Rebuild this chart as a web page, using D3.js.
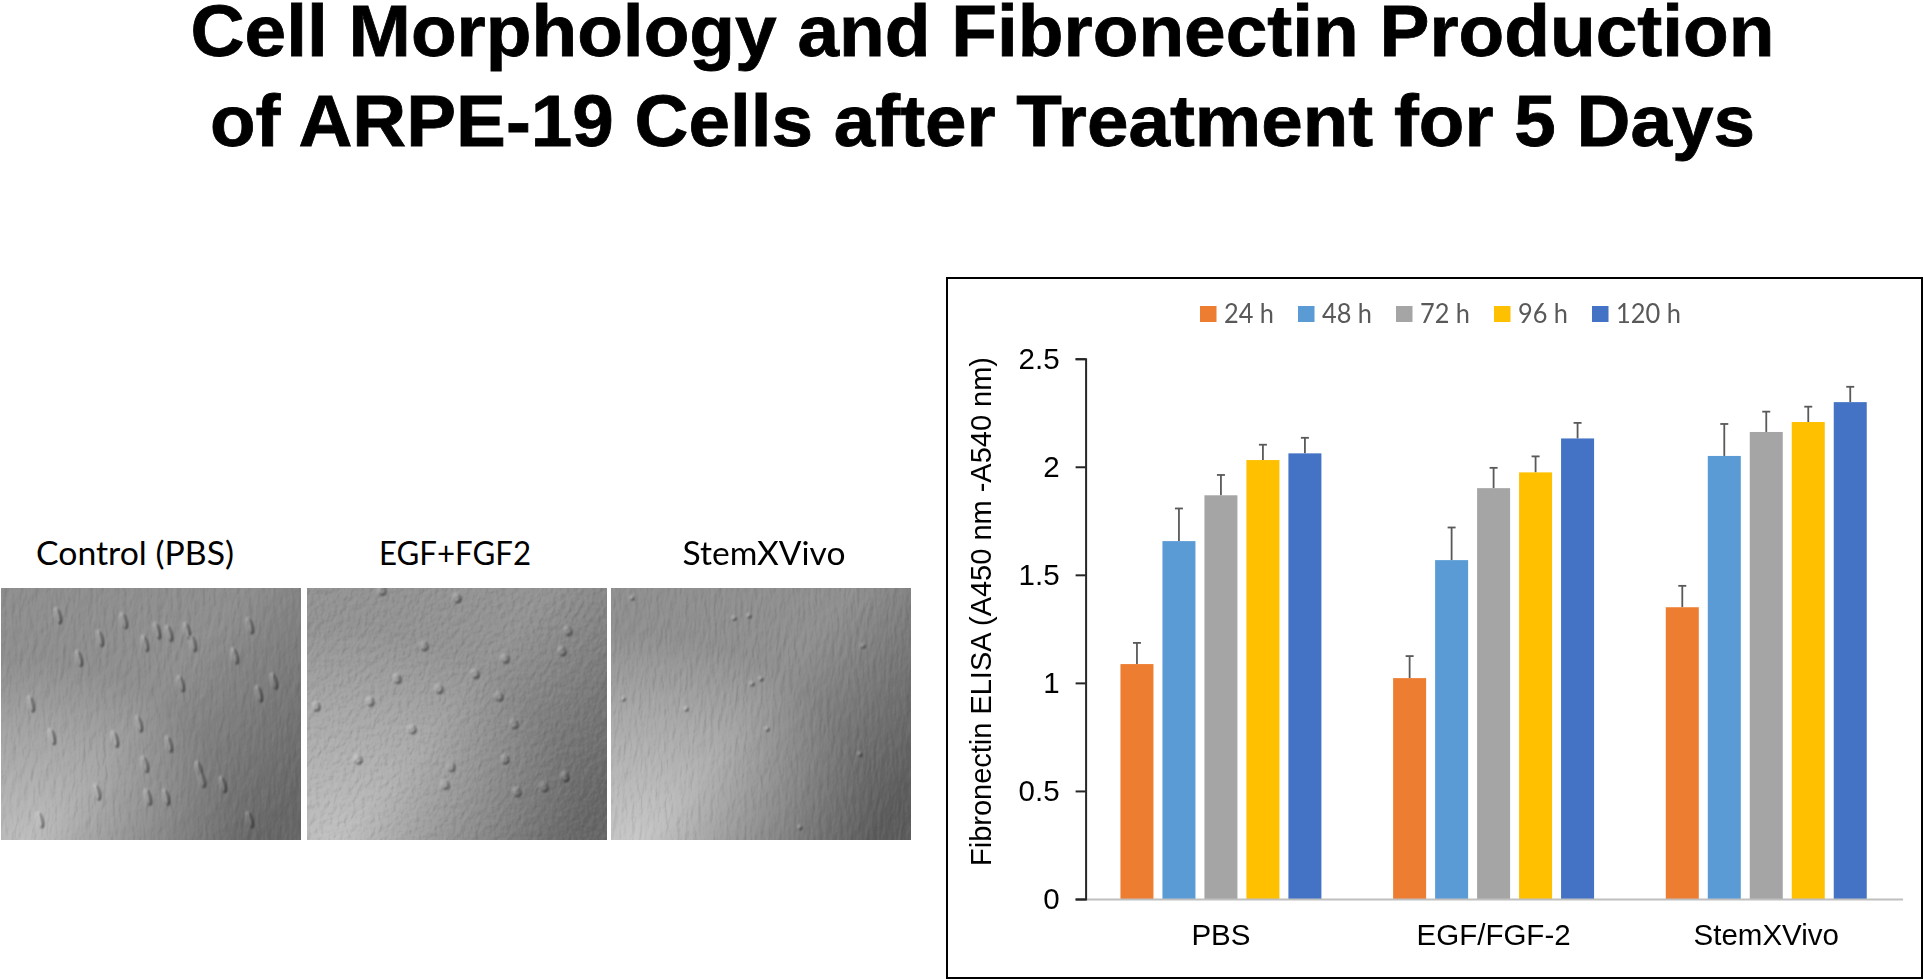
<!DOCTYPE html>
<html>
<head>
<meta charset="utf-8">
<script src="https://cdnjs.cloudflare.com/ajax/libs/d3/7.8.5/d3.min.js"></script>
<style>
	html, body { margin: 0; padding: 0; background: #fff; overflow: hidden; }
	svg { display: block; }
	text { font-family: "Liberation Sans", Arial, sans-serif; }
	.soft { font-family: Lato, "Open Sans", sans-serif; }
	.photo { isolation: isolate; }
</style>
</head>
<body>
<svg id="fig" width="1924" height="979"></svg>
<script>
var titleLines = ['Cell Morphology and Fibronectin Production', 'of ARPE-19 Cells after Treatment for 5 Days'];
var categories = ['PBS', 'EGF/FGF-2', 'StemXVivo'];
var seriesNames = ['24 h', '48 h', '72 h', '96 h', '120 h'];
var seriesColors = ['#ed7d31', '#5b9bd5', '#a5a5a5', '#ffc000', '#4472c4'];
var yTicks = [0, 0.5, 1, 1.5, 2, 2.5];

// one row per category, one value per series
var means = [
	[1.087, 1.656, 1.868, 2.031, 2.062],
	[1.022, 1.568, 1.901, 1.974, 2.131],
	[1.350, 2.050, 2.161, 2.207, 2.299]
];
var errorTops = [
	[1.185, 1.807, 1.962, 2.102, 2.134],
	[1.124, 1.719, 1.995, 2.048, 2.203],
	[1.449, 2.198, 2.255, 2.278, 2.370]
];

var panelNames = ['Control (PBS)', 'EGF+FGF2', 'StemXVivo'];
// cells seen in each micrograph, percent across / down the photo
var cellsControl = [[19,11],[41,13],[52,17],[62,17],[64,22],[48,22],[56,18],[33,20],[83,15],[86,42],[60,38],[91,37],[46,54],[48,70],[56,62],[66,72],[67,76],[74,78],[55,83],[83,92],[13,92],[32,81],[49,83],[38,60],[26,28],[78,27],[10,46],[17,59]];
var cellsEgf = [[25,1],[50,4],[39,23],[30,36],[56,34],[66,28],[87,17],[85,25],[21,45],[69,54],[35,56],[17,68],[48,71],[66,68],[70,81],[79,79],[86,75],[46,78],[3,47],[44,40],[64,43]];
var cellsStem = [[7,4],[41,12],[46,11],[47,38],[50,36],[83,66],[63,95],[84,23],[52,56],[25,48],[4,44]];
var panelCells = [cellsControl, cellsEgf, cellsStem];

var svg = d3.select('#fig');
var defs = svg.append('defs');

var drawTitle = function() {
	var widths = [1584, 1545];
	svg.selectAll('.title')
		.data(titleLines)
		.enter().append('text')
		.attr('class', 'title')
		.attr('x', 982.5)
		.attr('y', function(d, i) { return 56 + i * 90; })
		.attr('text-anchor', 'middle')
		.attr('font-size', 73)
		.attr('font-weight', 'bold')
		.attr('fill', '#000')
		.attr('stroke', '#000')
		.attr('stroke-width', 0.8)
		.attr('textLength', function(d, i) { return widths[i]; })
		.attr('lengthAdjust', 'spacingAndGlyphs')
		.text(function(d) { return d; });
};

// relief lighting so the photos read like phase contrast images
var reliefFilter = function(id, x, y, w, h, freq, scale, seed) {
	var f = defs.append('filter').attr('id', id)
		.attr('filterUnits', 'userSpaceOnUse')
		.attr('x', x).attr('y', y).attr('width', w).attr('height', h)
		.attr('color-interpolation-filters', 'sRGB');
	if (freq) {
		f.append('feTurbulence')
			.attr('type', 'fractalNoise').attr('baseFrequency', freq)
			.attr('numOctaves', 5).attr('seed', seed).attr('result', 'n');
	} else {
		f.append('feGaussianBlur').attr('in', 'SourceAlpha').attr('stdDeviation', 1.3).attr('result', 'n');
	}
	var light = f.append('feDiffuseLighting').attr('in', 'n')
		.attr('surfaceScale', scale).attr('diffuseConstant', 1)
		.attr('lighting-color', '#b4b4b4');
	light.append('feDistantLight').attr('azimuth', 225).attr('elevation', 45);
};

var drawPhotos = function() {
	var panelX = d3.scaleOrdinal().domain(panelNames).range([1, 307, 611]);
	var panelW = 300;
	var top = 588, h = 252;
	var labelWidths = [198, 152, 163];
	var labelCentres = [135, 455, 764];
	var baseTones = ['#8f8f8f', '#939393', '#8f8f8f'];
	var lightStops = [0.42, 0.42, 0.5];
	var lightSize = ['72%', '85%', '82%'];
	var darkStops = [0.28, 0.3, 0.36];
	var streaks = ['0.2 0.06', '0.22 0.14', '0.24 0.06'];
	var cellRx = [2.6, 3.6, 1.8], cellRy = [8, 4.4, 1.8];
	var cellStrength = [0.6, 0.5, 0.55];

	panelNames.forEach(function(name, i) {
		var x0 = panelX(name);
		reliefFilter('tex' + i, x0, top, panelW, h, streaks[i], 1.1, 11 + i);
		reliefFilter('cell' + i, x0, top, panelW, h, null, 1.1, 0);

		var glow = defs.append('radialGradient').attr('id', 'glow' + i)
			.attr('cx', '8%').attr('cy', '100%').attr('r', lightSize[i]);
		glow.append('stop').attr('offset', '0%').attr('stop-color', '#fff').attr('stop-opacity', lightStops[i]);
		glow.append('stop').attr('offset', '60%').attr('stop-color', '#fff').attr('stop-opacity', lightStops[i] * 0.45);
		glow.append('stop').attr('offset', '100%').attr('stop-color', '#fff').attr('stop-opacity', 0);
		var shade = defs.append('linearGradient').attr('id', 'shade' + i)
			.attr('x1', '50%').attr('y1', '45%').attr('x2', '100%').attr('y2', '80%');
		shade.append('stop').attr('offset', '0%').attr('stop-color', '#000').attr('stop-opacity', 0);
		shade.append('stop').attr('offset', '100%').attr('stop-color', '#000').attr('stop-opacity', darkStops[i]);

		var g = svg.append('g').attr('class', 'photo');
		var layer = function() {
			return g.append('rect').attr('x', x0).attr('y', top).attr('width', panelW).attr('height', h);
		};
		layer().attr('fill', baseTones[i]);
		layer().attr('fill', 'url(#glow' + i + ')');
		layer().attr('fill', 'url(#shade' + i + ')');
		layer().attr('filter', 'url(#tex' + i + ')').style('mix-blend-mode', 'hard-light').attr('opacity', 0.22);

		var cx = d3.scaleLinear().domain([0, 100]).range([x0, x0 + panelW]);
		var cy = d3.scaleLinear().domain([0, 100]).range([top, top + h]);
		var cells = g.append('g').attr('filter', 'url(#cell' + i + ')').style('mix-blend-mode', 'hard-light').attr('opacity', cellStrength[i]);
		cells.selectAll('ellipse')
			.data(panelCells[i])
			.enter().append('ellipse')
			.attr('rx', cellRx[i]).attr('ry', cellRy[i])
			.attr('transform', function(d) {
				return 'translate(' + cx(d[0]) + ',' + cy(d[1]) + ') rotate(-14)';
			});

		svg.append('text')
			.attr('class', 'soft')
			.attr('x', labelCentres[i]).attr('y', 565)
			.attr('text-anchor', 'middle')
			.attr('font-size', 33)
			.attr('fill', '#000')
			.attr('textLength', labelWidths[i])
			.attr('lengthAdjust', 'spacingAndGlyphs')
			.text(name);
	});
};

var drawChart = function() {
	var left = 1085.6, right = 1903.6, bottom = 899, upper = 358.7;

	svg.append('rect')
		.attr('x', 947).attr('y', 278).attr('width', 975).attr('height', 700)
		.attr('fill', '#fff').attr('stroke', '#000').attr('stroke-width', 2);

	var x0 = d3.scaleBand().domain(categories).range([left - 1, right - 1]).paddingInner(0.263).paddingOuter(0.1315);
	var x1 = d3.scaleBand().domain(seriesNames).range([0, x0.bandwidth()]).paddingInner(0.214);
	var y = d3.scaleLinear().domain([0, 2.5]).range([bottom, upper]);
	var colour = d3.scaleOrdinal().domain(seriesNames).range(seriesColors);

	var groups = svg.selectAll('.group')
		.data(categories)
		.enter().append('g')
		.attr('class', 'group')
		.attr('transform', function(d) { return 'translate(' + x0(d) + ',0)'; });

	// error bars first, bars sit on top of their lower half
	groups.each(function(cat, c) {
		var g = d3.select(this);
		var rows = seriesNames.map(function(s, k) {
			return { name: s, mean: means[c][k], top: errorTops[c][k] };
		});
		g.selectAll('.err')
			.data(rows)
			.enter().append('line')
			.attr('class', 'err')
			.attr('x1', function(d) { return x1(d.name) + x1.bandwidth() / 2; })
			.attr('x2', function(d) { return x1(d.name) + x1.bandwidth() / 2; })
			.attr('y1', function(d) { return y(d.mean); })
			.attr('y2', function(d) { return y(d.top); })
			.attr('stroke', '#595959').attr('stroke-width', 1.8);
		g.selectAll('.cap')
			.data(rows)
			.enter().append('line')
			.attr('class', 'cap')
			.attr('x1', function(d) { return x1(d.name) + x1.bandwidth() / 2 - 4; })
			.attr('x2', function(d) { return x1(d.name) + x1.bandwidth() / 2 + 4; })
			.attr('y1', function(d) { return y(d.top); })
			.attr('y2', function(d) { return y(d.top); })
			.attr('stroke', '#595959').attr('stroke-width', 1.8);
		g.selectAll('.bar')
			.data(rows)
			.enter().append('rect')
			.attr('class', 'bar')
			.attr('x', function(d) { return x1(d.name); })
			.attr('y', function(d) { return y(d.mean); })
			.attr('width', x1.bandwidth())
			.attr('height', function(d) { return bottom - y(d.mean); })
			.attr('fill', function(d) { return colour(d.name); });
	});

	var xAxis = svg.append('g')
		.attr('transform', 'translate(0,' + bottom + ')')
		.call(d3.axisBottom(x0).tickSize(0).tickPadding(25));
	xAxis.select('.domain').attr('stroke', '#bfbfbf').attr('stroke-width', 2);
	xAxis.selectAll('text').attr('font-size', 29.5).attr('font-family', '"Liberation Sans"').attr('fill', '#000');

	var yAxis = svg.append('g')
		.attr('transform', 'translate(' + left + ',0)')
		.call(d3.axisLeft(y).tickValues(yTicks).tickFormat(String).tickSize(10).tickSizeOuter(10).tickPadding(16));
	yAxis.select('.domain').attr('stroke', '#262626').attr('stroke-width', 2);
	yAxis.selectAll('line').attr('stroke', '#262626').attr('stroke-width', 2);
	yAxis.selectAll('text').attr('font-size', 29.5).attr('font-family', '"Liberation Sans"').attr('fill', '#000');

	svg.append('text')
		.attr('transform', 'translate(991,611.5) rotate(-90)')
		.attr('text-anchor', 'middle')
		.attr('font-size', 29)
		.attr('fill', '#000')
		.attr('textLength', 509)
		.attr('lengthAdjust', 'spacingAndGlyphs')
		.text('Fibronectin ELISA (A450 nm -A540 nm)');

	// legend
	var legendX = d3.scalePoint().domain(seriesNames.slice(0, 4)).range([1200, 1494]);
	var legend = svg.selectAll('.legend')
		.data(seriesNames)
		.enter().append('g')
		.attr('class', 'legend')
		.attr('transform', function(d, i) {
			var x = i < 4 ? legendX(d) : 1592;
			return 'translate(' + x + ',0)';
		});
	legend.append('rect')
		.attr('x', 0).attr('y', 306).attr('width', 16.5).attr('height', 16)
		.attr('fill', function(d) { return colour(d); });
	legend.append('text')
		.attr('class', 'soft')
		.attr('x', 24).attr('y', 323)
		.attr('font-size', 26)
		.attr('fill', '#595959')
		.attr('textLength', function(d) { return d.length > 4 ? 65 : 50; })
		.attr('lengthAdjust', 'spacingAndGlyphs')
		.text(function(d) { return d; });
};

drawTitle();
drawPhotos();
drawChart();
</script>
</body>
</html>
